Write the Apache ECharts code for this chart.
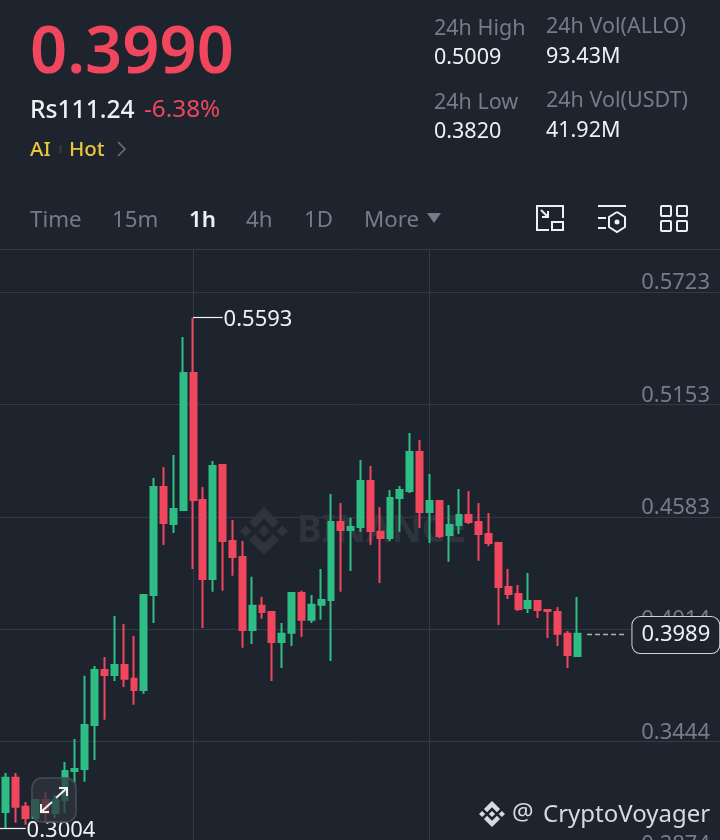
<!DOCTYPE html>
<html><head><meta charset="utf-8">
<style>html,body{margin:0;padding:0;background:#1e242e}#c{width:720px;height:840px}</style>
<script src="https://cdn.jsdelivr.net/npm/echarts@6/dist/echarts.min.js"></script>
</head><body><div id="c"></div>
<script>
const opens=[.3087,.3260,.3113,.3057,.3148,.3082,.3148,.3295,.3305,.3528,.3807,.3782,.3832,.3762,.3706,.4187,.4735,.4547,.4618,.5312,.4669,.4268,.4846,.4461,.4380,.4010,.4132,.4101,.3949,.3995,.4197,.4061,.4137,.4162,.4557,.4517,.4532,.4765,.4507,.4476,.4679,.4714,.4912,.4608,.4664,.4491,.4542,.4593,.4557,.4496,.4451,.4228,.4192,.4121,.4157,.4111,.4101,.3990,.3878];
const closes=[.3260,.3113,.3057,.3148,.3082,.3148,.3295,.3305,.3528,.3807,.3782,.3832,.3762,.3706,.4187,.4735,.4552,.4623,.5312,.4669,.4268,.4841,.4461,.4380,.4010,.4132,.4101,.3949,.3990,.4197,.4061,.4137,.4162,.4557,.4517,.4532,.4765,.4512,.4476,.4679,.4719,.4912,.4608,.4664,.4486,.4542,.4593,.4557,.4496,.4451,.4228,.4192,.4116,.4157,.4111,.4106,.3990,.3883,.3990];
const lows=[.3004,.3032,.3022,.3047,.3032,.3057,.3082,.3234,.3240,.3351,.3554,.3751,.3721,.3630,.3686,.4045,.4441,.4501,.4613,.4319,.4020,.4203,.4208,.4284,.3919,.3939,.4066,.3751,.3817,.3929,.3974,.4045,.4061,.3853,.4203,.4309,.4507,.4441,.4248,.4461,.4507,.4704,.4527,.4451,.4476,.4355,.4496,.4547,.4360,.4436,.4035,.4167,.4106,.4096,.4071,.3969,.3929,.3817,.3873];
const highs=[.3285,.3285,.3138,.3148,.3189,.3174,.3341,.3457,.3777,.3827,.3873,.4081,.4040,.3979,.4187,.4780,.4836,.4897,.5495,.5593,.4735,.4866,.4846,.4567,.4461,.4279,.4177,.4101,.4045,.4197,.4208,.4187,.4319,.4699,.4654,.4578,.4871,.4841,.4633,.4719,.4740,.5008,.4973,.4801,.4664,.4643,.4724,.4714,.4654,.4603,.4451,.4319,.4238,.4299,.4157,.4116,.4126,.4005,.4177];
const axisMin=0.2874, axisStep=0.05698, axisMax=0.5941;
const highMark=0.5593, lowMark=0.3004, lastPrice=0.3989;
const tabs=[['Time',30],['15m',112],['1h',189],['4h',246],['1D',304],['More',364]];
const stats=[['24h High','0.5009',434,29,58],['24h Low','0.3820',434,103,132],['24h Vol(ALLO)','93.43M',546,27,57],['24h Vol(USDT)','41.92M',546,101,131]];

const FONT='"Noto Sans",sans-serif';
const BG='#1e242e',UP='#2ebd85',DOWN='#f0475f',GRID='#343a45',GREY='#757c87',WHITE='#eef0f2',YEL='#eac43c';
const cats=[];for(let i=0;i<74;i++)cats.push('c'+i);
const candles=[['-','-','-','-']].concat(opens.map((o,i)=>[o,closes[i],lows[i],highs[i]]));

function txt(t,x,y,size,fill,weight,z){return{type:'text',x,y,z:z||20,silent:true,style:{text:t,fill,font:(weight||'normal')+' '+size+'px '+FONT,textAlign:'left',textVerticalAlign:'middle'}};}
function pl(pts,stroke,w,z){return{type:'polyline',z:z||20,silent:true,shape:{points:pts},style:{stroke,fill:null,lineWidth:w||2}};}
function rct(x,y,w,h,stroke,lw,r,fill,z){return{type:'rect',z:z||20,silent:true,shape:{x,y,width:w,height:h,r:r||0},style:{stroke,lineWidth:lw,fill:fill||null}};}
function logo(cx,cy,s,color,z){
  const P=a=>({type:'polygon',z,silent:true,shape:{points:a.map(p=>[cx+p[0]*s,cy+p[1]*s])},style:{fill:color}});
  const d=(x,y,r)=>P([[x,y-r],[x+r,y],[x,y+r],[x-r,y]]);
  return [d(0,0,.24),d(-.76,0,.24),d(.76,0,.24),
    P([[0,-1],[.62,-.38],[.38,-.14],[0,-.52],[-.38,-.14],[-.62,-.38]]),
    P([[0,1],[.62,.38],[.38,.14],[0,.52],[-.38,.14],[-.62,.38]])];
}
const g=[];
g.push(txt('0.3990',30,54,65,DOWN,'600'));
g.push(txt('Rs111.24',30,111,24.6,WHITE,'500'));
g.push(txt('-6.38%',144,110,24.3,DOWN));
g.push(txt('AI',30,150,20.5,YEL,'500'));
g.push(rct(60,146,1,7,'#3a3f48',1));
g.push(txt('Hot',69,150,20.5,YEL,'500'));
g.push(pl([[118,142],[125,149],[118,156]],'#6b717c',1.6));
stats.forEach(s=>{g.push(txt(s[0],s[2],s[3],21.5,GREY));g.push(txt(s[1],s[2],s[4],21.5,WHITE));});
tabs.forEach(t=>g.push(txt(t[0],t[1],221,22.3,t[0]==='1h'?WHITE:GREY,t[0]==='1h'?'600':'normal')));
g.push({type:'polygon',z:20,silent:true,shape:{points:[[427,213],[441,213],[434,223]]},style:{fill:GREY}});
g.push(pl([[549,230],[537,230],[537,206],[563,206],[563,218]],WHITE,2));
g.push(rct(552,222,11,8,WHITE,2));
g.push(pl([[541,210],[548,217]],WHITE,2));g.push(pl([[548,211],[548,217],[542,217]],WHITE,2));
g.push(pl([[598,206],[626,206]],WHITE,2));g.push(pl([[598,218],[606,218]],WHITE,2));g.push(pl([[598,228],[606,228]],WHITE,2));
g.push(pl([[617,212],[625,217],[625,227],[617,232],[609,227],[609,217],[617,212]],WHITE,2));
g.push({type:'circle',z:20,silent:true,shape:{cx:617,cy:222,r:2.5},style:{fill:WHITE}});
[[661,206],[677,206],[661,221],[677,221]].forEach(p=>g.push(rct(p[0],p[1],10,10,WHITE,2,1)));
logo(264,531,24,'#2e343e',1).forEach(e=>g.push(e));
g.push({type:'text',x:297,y:531,z:1,silent:true,style:{text:'BINANCE',fill:'#2e343e',font:'bold 37px '+FONT,textAlign:'left',textVerticalAlign:'middle'}});
g.push(rct(32,778,44,44,'#474d57',1.5,10,'rgba(46,53,62,0.72)',30));
g.push(pl([[41,812],[52,802]],WHITE,2,31));g.push(pl([[41,804],[41,812],[49,812]],WHITE,2,31));
g.push(pl([[56,798],[67,788]],WHITE,2,31));g.push(pl([[59,788],[67,788],[67,796]],WHITE,2,31));
logo(492,814,13,'#d7dade',40).forEach(e=>g.push(e));
g.push(txt('@',512,813,24,'#d7dade','normal',40));
g.push(txt('CryptoVoyager',543,815,24,'#d7dade','normal',40));

const markFont={color:WHITE,fontFamily:FONT,fontSize:22};
const option={
  backgroundColor:BG,animation:false,
  grid:{left:-8.85,right:0,top:249,bottom:-14,containLabel:false,outerBoundsMode:'none'},
  xAxis:{type:'category',data:cats,boundaryGap:true,axisLine:{show:false},axisTick:{show:false},axisLabel:{show:false},splitLine:{show:false}},
  yAxis:{type:'value',position:'right',min:axisMin,max:axisMax,interval:axisStep,
    axisLine:{show:false},axisTick:{show:false},
    axisLabel:{inside:true,showMaxLabel:false,showMinLabel:true,margin:10,verticalAlign:'bottom',color:GREY,fontFamily:FONT,fontSize:22,lineHeight:18,
      formatter:v=>v.toFixed(4)},
    splitLine:{lineStyle:{color:GRID,width:1}}},
  graphic:g,
  series:[
   {type:'line',data:[],silent:true,symbol:'none',z:1,
    markLine:{z:1,silent:true,symbol:'none',animation:false,label:{show:false},lineStyle:{color:GRID,width:1,type:'solid'},
      data:[{xAxis:20},{xAxis:44}]}},
   {type:'candlestick',z:3,data:candles,barWidth:6.4,clip:true,
    itemStyle:{color:UP,color0:DOWN,borderColor:UP,borderColor0:DOWN,borderWidth:2},
    markLine:{z:10,silent:true,symbol:'none',animation:false,
      data:[
       [{coord:[20,highMark],lineStyle:{color:WHITE,width:1.2,type:'solid'},label:{show:true,position:'end',distance:1,offset:[0,2],formatter:highMark.toFixed(4),...markFont}},{coord:[23,highMark]}],
       [{coord:[0,lowMark],lineStyle:{color:WHITE,width:1.2,type:'solid'},label:{show:true,position:'end',distance:1,offset:[0,2],formatter:lowMark.toFixed(4),...markFont}},{coord:[3,lowMark]}],
       [{coord:[60,lastPrice],lineStyle:{color:'#b0b4ba',width:1.4,type:[5,3]},label:{show:true,position:'end',distance:6,offset:[0,1],formatter:lastPrice.toFixed(4),...markFont,backgroundColor:BG,borderColor:'#cfd3d8',borderWidth:1,borderRadius:8,padding:[8,9,6,9]}},{coord:[64,lastPrice]}]
      ]}}
  ]
};
echarts.init(document.getElementById('c'),null,{renderer:'canvas'}).setOption(option);
</script></body></html>
